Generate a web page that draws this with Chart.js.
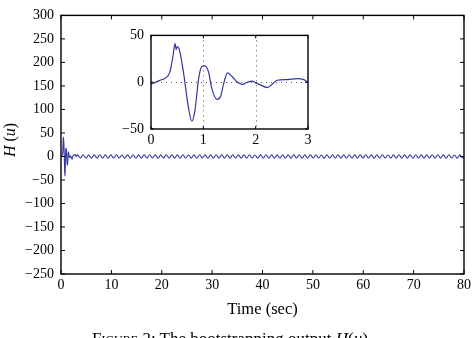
<!DOCTYPE html>
<html>
<head>
<meta charset="utf-8">
<script src="https://cdn.jsdelivr.net/npm/chart.js@4.4.1/dist/chart.umd.min.js"></script>
<style>
  html, body { margin: 0; padding: 0; background: #fff; overflow: hidden; }
  #wrap { position: relative; width: 474px; height: 338px; overflow: hidden; }
  #mainChart { position: absolute; left: 0; top: 0; }
  #insetChart { position: absolute; left: 110px; top: 20px; }
  #caption {
    position: absolute; left: 92px; top: 330px; white-space: nowrap;
    font: 17px "Liberation Serif", serif; line-height: 17px; color: #000;
  }
  #caption .sc { font-variant: small-caps; }
</style>
</head>
<body>
<div id="wrap">
  <canvas id="mainChart" width="474" height="338"></canvas>
  <canvas id="insetChart" width="205" height="130"></canvas>
  <div id="caption"><span class="sc">Figure</span> 2: The bootstrapping output <i>H</i>(<i>u</i>).</div>
</div>
<script>
// transient, first 3 seconds (also shown zoomed in the inset)
const insetTime = [0, 0.17, 0.26, 0.36, 0.42, 0.46, 0.48, 0.5, 0.54, 0.62, 0.715, 0.78, 0.84, 0.91,
  0.97, 1.03, 1.1, 1.16, 1.26, 1.33, 1.39, 1.46, 1.54, 1.64, 1.74, 1.83, 1.93, 2.02, 2.12, 2.22,
  2.31, 2.41, 2.6, 2.79, 2.92, 3.0];
const insetValues = [-2.4, 2, 4, 10.7, 28, 41.5, 35, 38, 35, 10.7, -27, -41.7, -30, 3.8,
  16.8, 17.5, 10.7, -6.4, -18.4, -15, -1.3, 10, 6.6, 0.4, -2.4, -0.3, 1.1, -1.3, -3.7, -5.7,
  -2.4, 2.1, 2.8, 3.8, 2.8, -0.3];

// steady-state ripple after the transient (peaks and troughs)
const rippleTime = [3.3, 3.85, 4.4, 4.95, 5.5, 6.05, 6.6, 7.15, 7.7, 8.25, 8.8, 9.35, 9.9, 10.45,
  11, 11.55, 12.1, 12.65, 13.2, 13.75, 14.3, 14.85, 15.4, 15.95, 16.5, 17.05, 17.6, 18.15, 18.7,
  19.25, 19.8, 20.35, 20.9, 21.45, 22, 22.55, 23.1, 23.65, 24.2, 24.75, 25.3, 25.85, 26.4, 26.95,
  27.5, 28.05, 28.6, 29.15, 29.7, 30.25, 30.8, 31.35, 31.9, 32.45, 33, 33.55, 34.1, 34.65, 35.2,
  35.75, 36.3, 36.85, 37.4, 37.95, 38.5, 39.05, 39.6, 40.15, 40.7, 41.25, 41.8, 42.35, 42.9, 43.45,
  44, 44.55, 45.1, 45.65, 46.2, 46.75, 47.3, 47.85, 48.4, 48.95, 49.5, 50.05, 50.6, 51.15, 51.7,
  52.25, 52.8, 53.35, 53.9, 54.45, 55, 55.55, 56.1, 56.65, 57.2, 57.75, 58.3, 58.85, 59.4, 59.95,
  60.5, 61.05, 61.6, 62.15, 62.7, 63.25, 63.8, 64.35, 64.9, 65.45, 66, 66.55, 67.1, 67.65, 68.2,
  68.75, 69.3, 69.85, 70.4, 70.95, 71.5, 72.05, 72.6, 73.15, 73.7, 74.25, 74.8, 75.35, 75.9, 76.45,
  77, 77.55, 78.1, 78.65, 79.2, 79.75, 80];
const rippleValues = [
  3.4, -3.2, 3.5, -3.4, 3.3, -3.5, 3.4, -3.3, 3.6, -3.4,
  3.3, -3.5, 3.4, -3.3, 3.5, -3.4, 3.2, -3.5, 3.4, -3.3,
  3.5, -3.4, 3.3, -3.6, 3.4, -3.3, 3.5, -3.4, 3.3, -3.5,
  3.4, -3.3, 3.6, -3.4, 3.3, -3.5, 3.4, -3.3, 3.5, -3.4,
  3.2, -3.5, 3.4, -3.3, 3.5, -3.4, 3.3, -3.6, 3.4, -3.3,
  3.5, -3.4, 3.3, -3.5, 3.4, -3.3, 3.6, -3.4, 3.3, -3.5,
  3.4, -3.3, 3.5, -3.4, 3.2, -3.5, 3.4, -3.3, 3.5, -3.4,
  3.3, -3.6, 3.4, -3.3, 3.5, -3.4, 3.3, -3.5, 3.4, -3.3,
  3.6, -3.4, 3.3, -3.5, 3.4, -3.3, 3.5, -3.4, 3.2, -3.5,
  3.4, -3.3, 3.5, -3.4, 3.3, -3.6, 3.4, -3.3, 3.5, -3.4,
  3.3, -3.5, 3.4, -3.3, 3.6, -3.4, 3.3, -3.5, 3.4, -3.3,
  3.5, -3.4, 3.2, -3.5, 3.4, -3.3, 3.5, -3.4, 3.3, -3.6,
  3.4, -3.3, 3.5, -3.4, 3.3, -3.5, 3.4, -3.3, 3.6, -3.4,
  3.3, -3.5, 3.4, -3.3, 3.5, -3.4, 3.2, -3.5, 3.4, -3.3,
  -1];

const xTicksMain = [0, 10, 20, 30, 40, 50, 60, 70, 80];
const yTicksMain = [-250, -200, -150, -100, -50, 0, 50, 100, 150, 200, 250, 300];
const xTicksInset = [0, 1, 2, 3];
const yTicksInset = [-50, 0, 50];

const LINE = "#3636a0";
const SERIF = '"Liberation Serif", "DejaVu Serif", serif';

Chart.defaults.font.family = SERIF;
Chart.defaults.font.size = 14;
Chart.defaults.color = "#000";

const minus = v => String(v).replace("-", "\u2212");
const toPoints = (xs, ys) => xs.map((x, i) => ({ x, y: ys[i] }));

// box around the plot area plus inward ticks on all four sides
const frameTicks = {
  id: "frameTicks",
  afterDraw(chart, args, opts) {
    const { ctx, chartArea: a, scales: { x, y } } = chart;
    ctx.save();
    ctx.strokeStyle = "#000";
    ctx.lineWidth = opts.width;
    ctx.strokeRect(a.left, a.top, a.right - a.left, a.bottom - a.top);
    ctx.lineWidth = 1;
    ctx.beginPath();
    x.ticks.forEach(t => {
      const px = x.getPixelForValue(t.value);
      ctx.moveTo(px, a.bottom); ctx.lineTo(px, a.bottom - opts.len);
      ctx.moveTo(px, a.top); ctx.lineTo(px, a.top + opts.len);
    });
    y.ticks.forEach(t => {
      const py = y.getPixelForValue(t.value);
      ctx.moveTo(a.left, py); ctx.lineTo(a.left + opts.len, py);
      ctx.moveTo(a.right, py); ctx.lineTo(a.right - opts.len, py);
    });
    ctx.stroke();
    ctx.restore();
  }
};

// white plot background + dotted guide lines for the inset
const insetGrid = {
  id: "insetGrid",
  beforeDraw(chart) {
    const { ctx, chartArea: a } = chart;
    ctx.save();
    ctx.fillStyle = "#fff";
    ctx.fillRect(a.left, a.top, a.right - a.left, a.bottom - a.top);
    ctx.restore();
  },
  beforeDatasetsDraw(chart) {
    const { ctx, chartArea: a, scales: { x, y } } = chart;
    ctx.save();
    ctx.strokeStyle = "#555";
    ctx.lineWidth = 1;
    ctx.setLineDash([1, 4]);
    ctx.beginPath();
    [1, 2].forEach(v => {
      const px = Math.round(x.getPixelForValue(v)) + 0.5;
      ctx.moveTo(px, a.top); ctx.lineTo(px, a.bottom);
    });
    const py = Math.round(y.getPixelForValue(0)) + 0.5;
    ctx.moveTo(a.left, py); ctx.lineTo(a.right, py);
    ctx.stroke();
    ctx.restore();
  }
};

// rotated y title with italic H and u
const yTitle = {
  id: "yTitle",
  afterDraw(chart) {
    const ctx = chart.ctx;
    const parts = [["italic 16px " + SERIF, "H"], ["16px " + SERIF, " ("],
                   ["italic 16px " + SERIF, "u"], ["16px " + SERIF, ")"]];
    ctx.save();
    ctx.translate(15, 140);
    ctx.rotate(-Math.PI / 2);
    ctx.fillStyle = "#000";
    ctx.textBaseline = "alphabetic";
    let w = 0;
    parts.forEach(p => { ctx.font = p[0]; w += ctx.measureText(p[1]).width; });
    let x = -w / 2;
    parts.forEach(p => { ctx.font = p[0]; ctx.fillText(p[1], x, 0); x += ctx.measureText(p[1]).width; });
    ctx.restore();
  }
};

new Chart(document.getElementById("mainChart"), {
  type: "line",
  data: {
    datasets: [{
      data: toPoints(insetTime.concat(rippleTime), insetValues.concat(rippleValues)),
      borderColor: LINE, borderWidth: 1.1, pointRadius: 0,
      cubicInterpolationMode: "monotone"
    }]
  },
  options: {
    responsive: false, animation: false,
    layout: { padding: { left: 0, right: 7, top: 6, bottom: 18 } },
    plugins: { legend: { display: false }, tooltip: { enabled: false },
               frameTicks: { width: 1.4, len: 4 } },
    scales: {
      x: {
        type: "linear", min: 0, max: 80,
        afterBuildTicks: s => { s.ticks = xTicksMain.map(value => ({ value })); },
        afterFit: s => { s.height = 46; },
        grid: { display: false, drawTicks: false },
        border: { display: false },
        ticks: { padding: 3, maxRotation: 0, callback: minus },
        title: { display: true, text: "Time (sec)", font: { size: 16.5 }, padding: { top: 0, bottom: 0 } }
      },
      y: {
        min: -250, max: 300,
        afterBuildTicks: s => { s.ticks = yTicksMain.map(value => ({ value })); },
        afterFit: s => { s.width = 61; },
        grid: { display: false, drawTicks: false },
        border: { display: false },
        ticks: { padding: 7, callback: minus }
      }
    }
  },
  plugins: [frameTicks, yTitle]
});

new Chart(document.getElementById("insetChart"), {
  type: "line",
  data: {
    datasets: [{
      data: toPoints(insetTime, insetValues),
      borderColor: LINE, borderWidth: 1.2, pointRadius: 0,
      cubicInterpolationMode: "monotone"
    }]
  },
  options: {
    responsive: false, animation: false,
    layout: { padding: { left: 0, right: 7, top: 12, bottom: 0 } },
    plugins: { legend: { display: false }, tooltip: { enabled: false },
               frameTicks: { width: 1.4, len: 3 } },
    scales: {
      x: {
        type: "linear", min: 0, max: 3,
        afterBuildTicks: s => { s.ticks = xTicksInset.map(value => ({ value })); },
        afterFit: s => { s.height = 21; },
        grid: { display: false, drawTicks: false },
        border: { display: false },
        ticks: { padding: 3, maxRotation: 0, callback: minus }
      },
      y: {
        min: -50, max: 50,
        afterBuildTicks: s => { s.ticks = yTicksInset.map(value => ({ value })); },
        afterFit: s => { s.width = 41; },
        grid: { display: false, drawTicks: false },
        border: { display: false },
        ticks: { padding: 7, callback: minus }
      }
    }
  },
  plugins: [insetGrid, frameTicks]
});
</script>
</body>
</html>
